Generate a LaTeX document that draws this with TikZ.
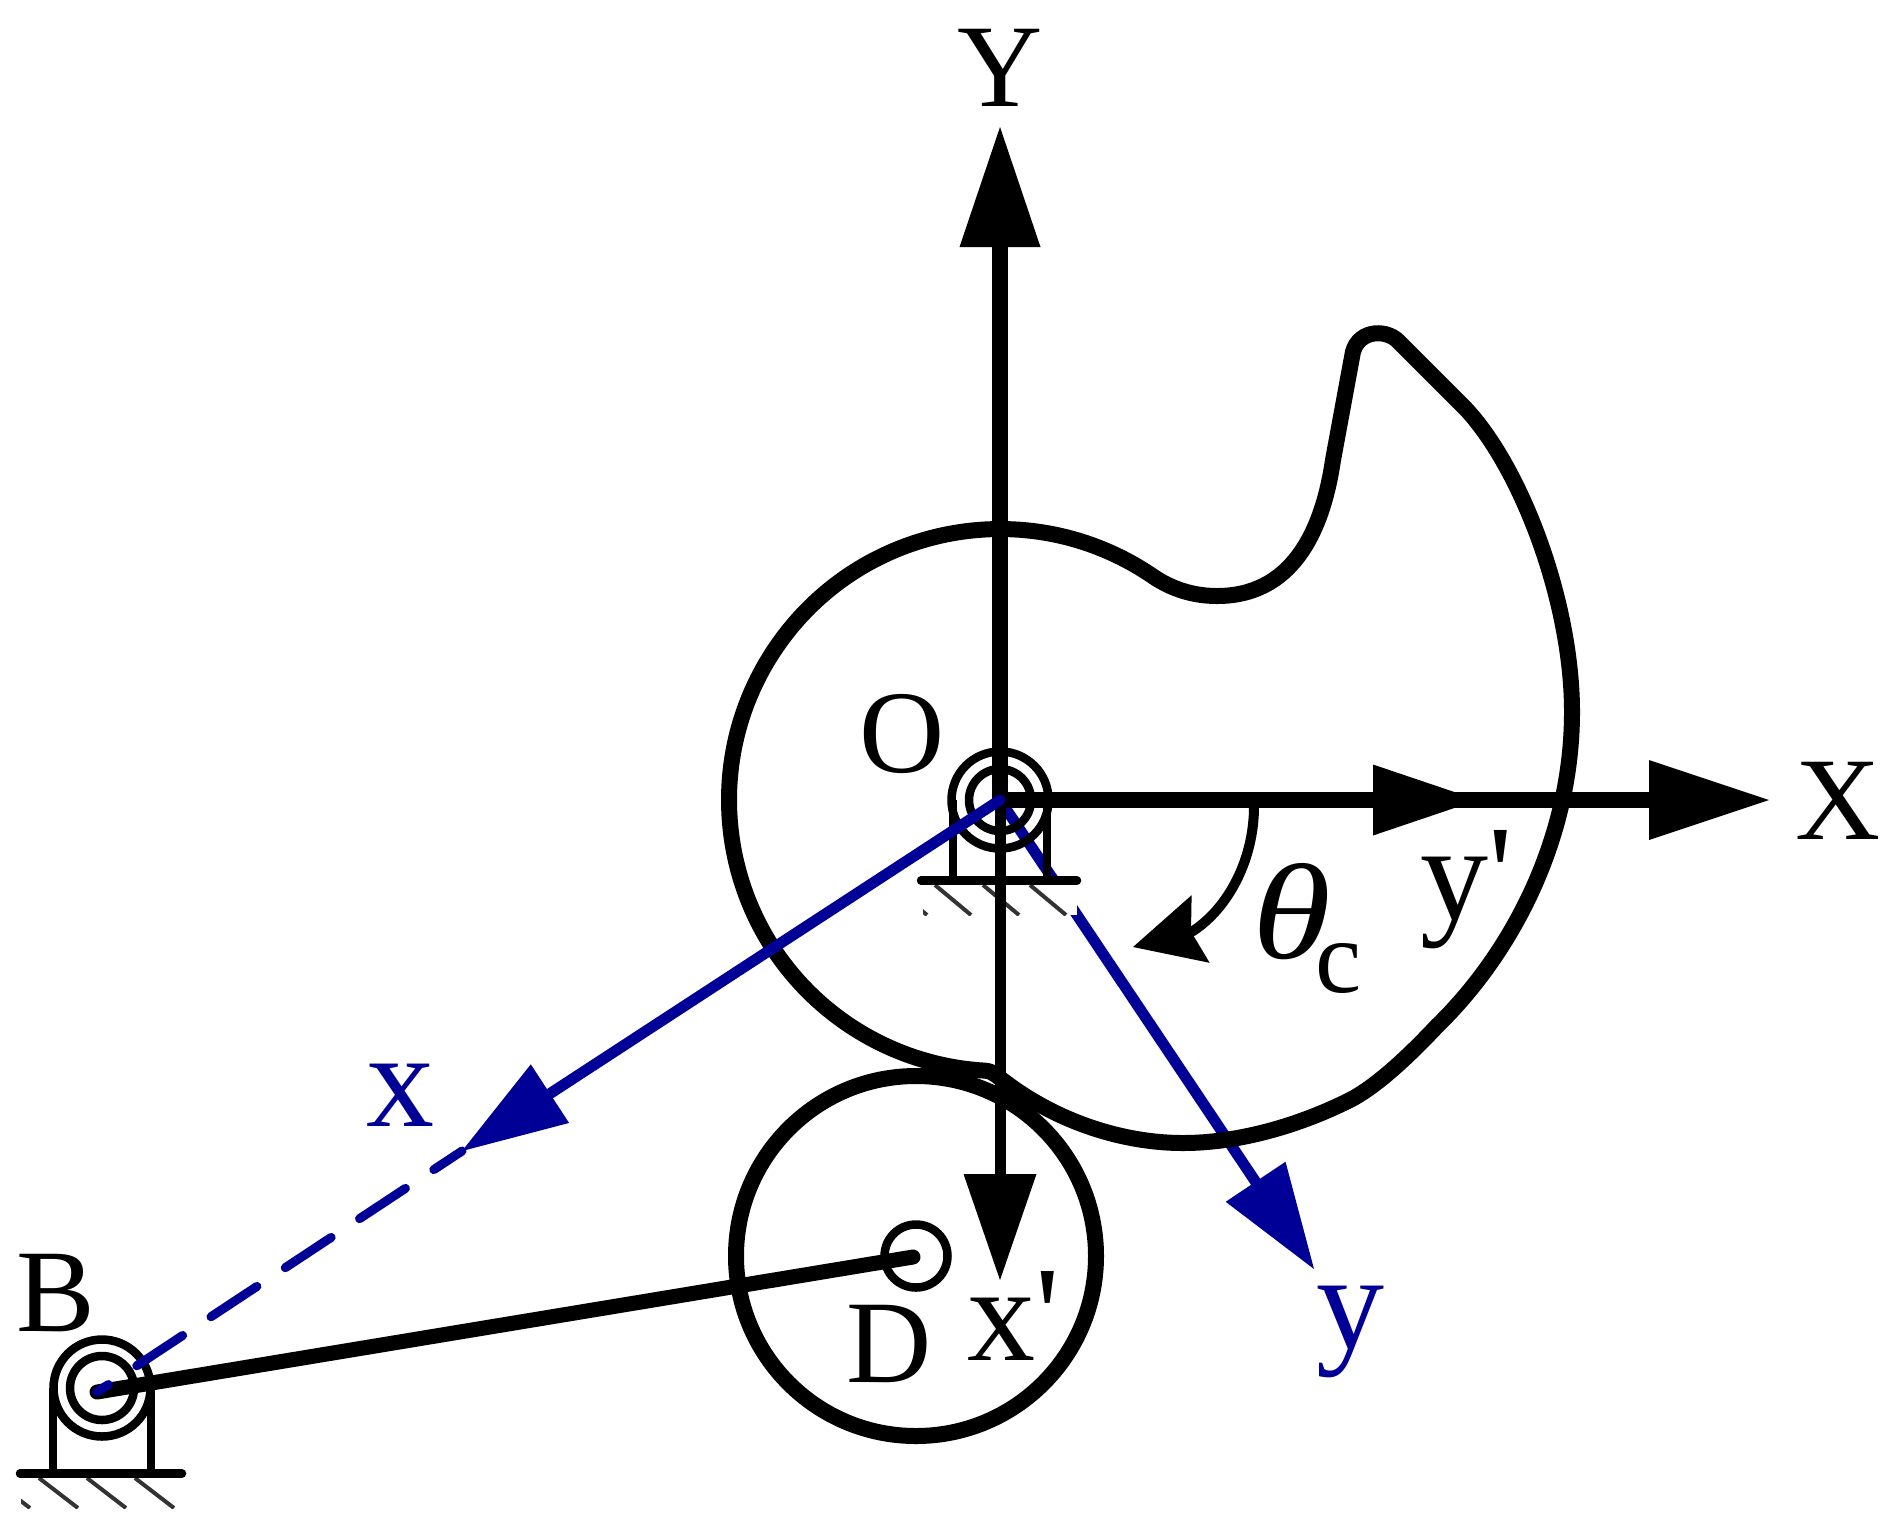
\documentclass[tikz,border=0pt]{standalone}
\usepackage{fontspec}
\usepackage{graphicx}
\usepackage{tikz}
\usetikzlibrary{arrows.meta}
\newfontfamily\labelfont{Liberation Serif}
\definecolor{axisblue}{RGB}{0,0,150}

\begin{document}
\begin{tikzpicture}[
	x=0.5pt,
	y=-0.5pt,
	thick axis/.style={
		draw=black,
		line width=8pt
	},
	thin axis/.style={
		draw=black,
		line width=5.5pt
	},
	blue axis/.style={
		draw=axisblue,
		line width=5.5pt,
		line cap=round
	},
	profile/.style={
		draw=black,
		line width=8pt,
		line join=round
	},
	rod/.style={
		draw=black,
		line width=7.5pt,
		line cap=round
	},
	pin/.style={
		draw=black,
		line width=4.25pt
	},
	hatching/.style={
		draw=black!80,
		line width=2pt
	},
	capital/.style={
		inner sep=0pt,
		anchor=base,
		font=\labelfont\fontsize{59}{59}\selectfont
	},
	small letter/.style={
		inner sep=0pt,
		anchor=base west,
		font=\labelfont\fontsize{68}{68}\selectfont
	}
]
\useasboundingbox (0,0) rectangle (1893,1532);

% Points
\coordinate (O) at (1000,800);
\coordinate (B) at (102,1388);
\coordinate (D) at (916,1256);
\coordinate (Y tip) at (1000,127);
\coordinate (X tip) at (1769,800);
\coordinate (yp tip) at (1478,800);
\coordinate (xp tip) at (1000,1280);
\coordinate (x tip) at (462,1151);
\coordinate (y tip) at (1314,1269);
\coordinate (B end) at (97,1392);

% Blue y axis runs under the bearing
\draw [blue axis, -{Triangle[length=52.5pt,width=36pt,line width=0pt]}] (O) -- (y tip);

% Bearing at O
\fill [white] (923,885) rectangle (1077,915);
\begin{scope}
\clip (923,885) rectangle (1077,915);
\foreach \hx in {891,935,983,1030} {
	\draw [hatching] (\hx,885) -- ++(36,30);
}
\end{scope}
\draw [pin] (953,880) -- (953,800);
\draw [pin] (1047,880) -- (1047,800);
\draw [pin, line cap=round] (921,880.5) -- (1077,880.5);
\draw [pin] (O) circle (48.5);
\draw [pin] (O) circle (31);

% Bearing at B
\begin{scope}
\clip (21,1478) rectangle (181,1508);
\foreach \hx in {-9,39,87,135} {
	\draw [hatching] (\hx,1478) -- ++(39,30);
}
\end{scope}
\draw [pin] (53,1473) -- (53,1388);
\draw [pin] (151,1473) -- (151,1388);
\draw [pin, line cap=round] (20,1473.5) -- (182,1473.5);
\draw [pin] (B) circle (48.5);
\draw [pin] (B) circle (32);

% Axes
\draw [thin axis, -{Triangle[length=53pt,width=36.5pt,line width=0pt]}] (O) -- (xp tip);
\draw [thick axis, -{Triangle[length=60pt,width=40.5pt,line width=0pt]}] (O) -- (Y tip);
\draw [thick axis, -{Triangle[length=60pt,width=40pt,line width=0pt]}] (O) -- (X tip);
\draw [thick axis, -{Triangle[length=52.5pt,width=35.5pt,line width=0pt]}] (O) -- (yp tip);

% Cam
\draw [profile] (1153.9,577) arc (-55.4:-266.6:271)
	.. controls (994,1071) and (996,1076) .. (1005,1082)
	.. controls (1055,1120) and (1120,1143) .. (1183,1143)
	.. controls (1240,1143) and (1300,1125) .. (1350,1100)
	.. controls (1375,1087) and (1405,1060) .. (1437,1026)
	.. controls (1515,950) and (1572,835) .. (1572,712)
	.. controls (1572,600) and (1520,466) .. (1465,408)
	-- (1398,341)
	.. controls (1385,328) and (1355,330) .. (1352,357)
	-- (1333,460)
	.. controls (1322,535) and (1290,596) .. (1217,596)
	.. controls (1193,596) and (1172,589) .. cycle;

% Roller and rod
\draw [profile] (D) circle (180);
\draw [pin] (D) circle (31.5);
\draw [rod] (B end) -- (913,1257);

% Blue x axis and its dashed part
\draw [blue axis, -{Triangle[length=52.5pt,width=35pt,line width=0pt]}] (O) -- (x tip);
\draw [blue axis, line width=4.5pt, dash pattern=on 27.5pt off 17pt, dash phase=20.7pt] (B end) -- (x tip);

% Angle
\draw [draw=black, line width=5pt, -{Stealth[length=35pt,width=35pt,inset=5pt,line width=0pt]}]
	(1254,806) .. controls (1254,860) and (1228,908) .. (1193,931) -- (1133,947);

% Labels
\node [capital] (Y label) at (1000,106) {Y};
\node [capital] (X label) at (1838,839) {X};
\node [capital] (O label) at (902,772) {O};
\node [capital] (B label) at (56,1331) {B};
\node [capital] (D label) at (889,1382) {D};
\node [small letter] (xp label) at (967,1360) {x'};
\node [small letter] (yp label) at (1420,919) {y'};
\node [small letter, text=axisblue] (x label) at (366,1126) {x};
\node [small letter, text=axisblue] (y label) at (1316,1348) {y};
\node [small letter] (theta label) at (1252,958) {\scalebox{1.18}[1]{\itshape θ}\upshape\fontsize{52}{52}\selectfont\hspace{-8pt}\raisebox{-17pt}{c}};
\end{tikzpicture}
\end{document}
